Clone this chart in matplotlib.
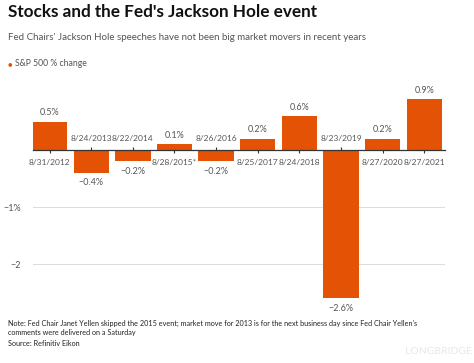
import matplotlib
matplotlib.use("Agg")
import matplotlib.pyplot as plt

# S&P 500 % change on the day of each Jackson Hole speech
dates = ["8/31/2012", "8/24/2013", "8/22/2014", "8/28/2015*", "8/26/2016",
         "8/25/2017", "8/24/2018", "8/23/2019", "8/27/2020", "8/27/2021"]
changes = [0.5, -0.4, -0.2, 0.1, -0.2, 0.2, 0.6, -2.6, 0.2, 0.9]
ytick_vals = [-1, -2]
ytick_labels = ["\u22121%", "\u22122"]

ORANGE = "#e35205"
GREY = "#555555"
FONT = "Lato"

plt.rcParams["font.family"] = [FONT, "DejaVu Sans"]

W, H = 474, 363
fig = plt.figure(figsize=(W / 100, H / 100), dpi=100)

# titles
fig.text(8 / W, 1 - 12 / H, "Stocks and the Fed's Jackson Hole event",
         fontsize=12.3, fontweight="bold", color="#111111", va="center")
fig.text(8 / W, 1 - 37 / H,
         "Fed Chairs' Jackson Hole speeches have not been big market movers in recent years",
         fontsize=7.0, color=GREY, va="center")
fig.text(8 / W, 1 - 64 / H, "\u25CF", fontsize=5.5, color=ORANGE, va="center")
fig.text(15 / W, 1 - 64 / H, "S&P 500 % change", fontsize=6.2, color=GREY,
         va="center")

# plot area
ax = fig.add_axes([33 / W, (H - 304) / H, 412 / W, 211 / H])
x = list(range(len(dates)))
ax.bar(x, changes, width=0.85, color=ORANGE, zorder=3)
ax.set_xlim(-0.4, 9.5)
ax.set_ylim(-2.7, 1.0)

for s in ["top", "right", "left"]:
    ax.spines[s].set_visible(False)
ax.spines["bottom"].set_position(("data", 0))
ax.spines["bottom"].set_color("#333333")
ax.spines["bottom"].set_linewidth(0.9)
ax.spines["bottom"].set_zorder(4)
ax.set_xticks(x)
ax.set_xticklabels([])
ax.tick_params(axis="x", direction="inout", length=5, width=0.8,
               color="#333333")

ax.set_yticks(ytick_vals)
ax.set_yticklabels(ytick_labels, fontsize=6.5, color=GREY)
ax.tick_params(axis="y", length=0, pad=9)
ax.grid(axis="y", color="#dddddd", linewidth=0.8, zorder=0)

for xi, v, d in zip(x, changes, dates):
    lbl = f"{v:.1f}%".replace("-", "\u2212")
    if v >= 0:
        ax.annotate(lbl, (xi, v), xytext=(0, 3), textcoords="offset points",
                    ha="center", va="bottom", fontsize=6.5, color=GREY)
        ax.annotate(d, (xi, 0), xytext=(0, -9), textcoords="offset points",
                    ha="center", va="center", fontsize=6.0, color=GREY)
    else:
        ax.annotate(lbl, (xi, v), xytext=(0, -7), textcoords="offset points",
                    ha="center", va="center", fontsize=6.5, color=GREY)
        ax.annotate(d, (xi, 0), xytext=(0, 8), textcoords="offset points",
                    ha="center", va="center", fontsize=6.0, color=GREY)

# footnote
fig.text(8 / W, 1 - 323 / H,
         "Note: Fed Chair Janet Yellen skipped the 2015 event; market move for 2013 is for the next business day since Fed Chair Yellen's",
         fontsize=5.25, color="#222222", va="center")
fig.text(8 / W, 1 - 333 / H, "comments were delivered on a Saturday",
         fontsize=5.25, color="#222222", va="center")
fig.text(8 / W, 1 - 344 / H, "Source: Refinitiv Eikon",
         fontsize=5.25, color="#222222", va="center")
fig.text(405 / W, 1 - 351 / H, "LONGBRIDGE", fontsize=7.5, color="#e8e8e8",
         va="center")

fig.savefig("out.png", dpi=100)
